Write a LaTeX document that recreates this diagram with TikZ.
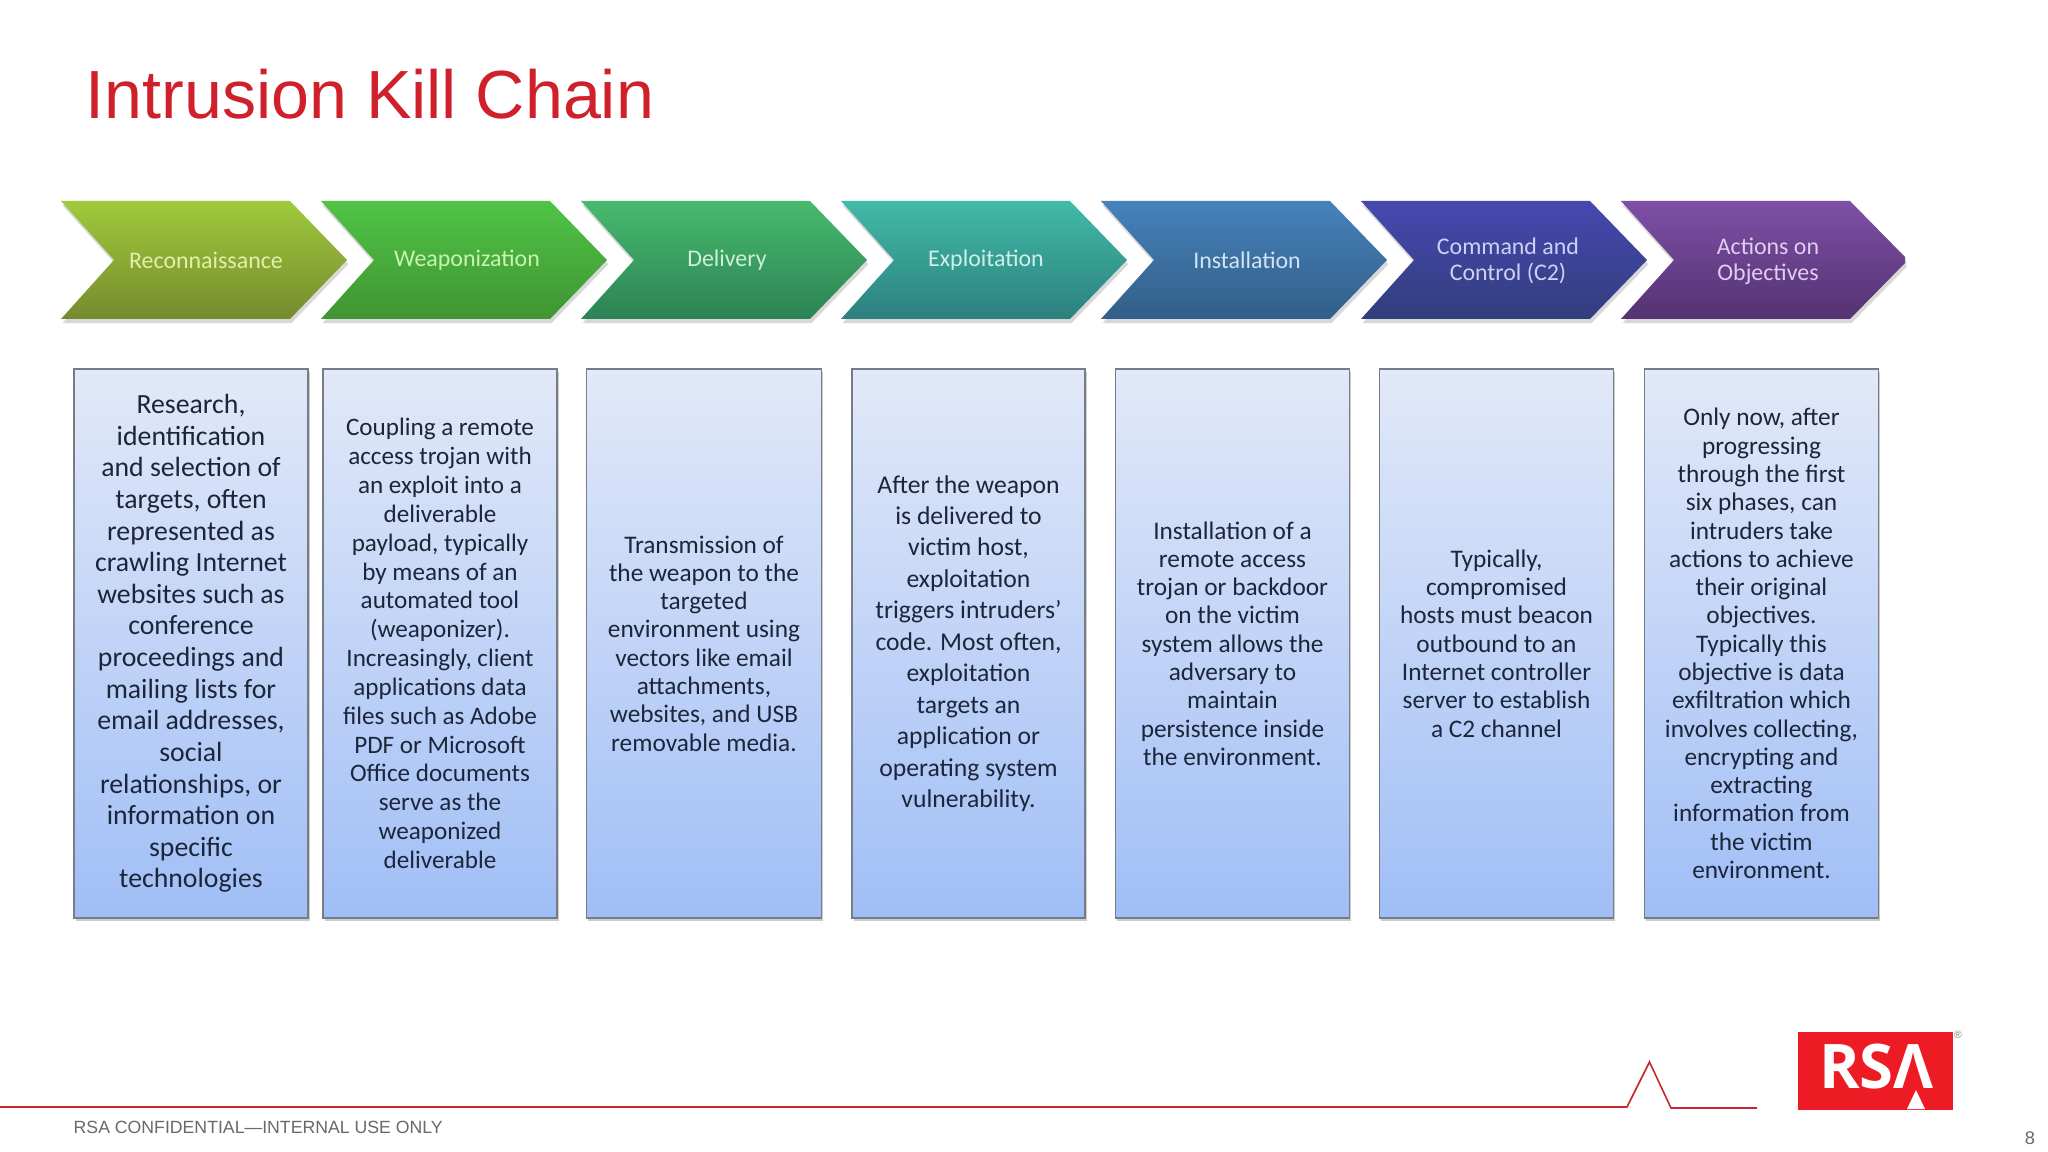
\documentclass[tikz,border=0pt]{standalone}
\usepackage{fontspec}
\usepackage{tikz}
\usetikzlibrary{shadows}
\setmainfont{Carlito}
\newfontfamily\slidefont{Liberation Sans}
\newfontfamily\logofont{Open Sans}
\definecolor{rsared}{RGB}{237,28,36}
\definecolor{titlered}{RGB}{208,32,44}
\definecolor{footgray}{RGB}{105,105,105}
\definecolor{boxtop}{RGB}{226,233,248}
\definecolor{boxbottom}{RGB}{160,190,246}
\definecolor{boxline}{RGB}{118,124,136}
\definecolor{boxtext}{RGB}{28,38,58}
\tikzset{
    chevron/.style = {drop shadow = {shadow xshift = 0.4pt, shadow yshift = -1.2pt, opacity = 0.3}},
    chevrontext/.style = {font = {\fontsize{6.8}{7.5}\selectfont}, align = center},
    phasebox/.style = {draw = boxline, line width = 0.5pt, top color = boxtop, bottom color = boxbottom,
        minimum height = 5.49cm, inner sep = 0pt, align = center, text = boxtext,
        drop shadow = {shadow xshift = 0.5pt, shadow yshift = -0.9pt, opacity = 0.4}},
    bigtext/.style = {font = {\fontsize{7.9}{9}\selectfont}},
    midtext/.style = {font = {\fontsize{7.3}{8.95}\selectfont}},
    smalltext/.style = {font = {\fontsize{7.2}{8.05}\selectfont}},
    widetext/.style = {font = {\fontsize{7.15}{8.2}\selectfont}}
}

\begin{document}
\begin{tikzpicture}[x = 1cm, y = -1cm]
    \useasboundingbox[fill = white] (0, 0) rectangle (20.48, 11.52);

    \node[font = {\slidefont\fontsize{19.4}{22}\selectfont}, text = titlered, anchor = west, inner sep = 0pt] (title) at (0.85, 0.94) {Intrusion Kill Chain};

    % arrows along the top
    \path[chevron, top color = {rgb,255:red,160;green,202;blue,60}, bottom color = {rgb,255:red,118;green,138;blue,46}] (0.61, 2.01) -- (2.90, 2.01) -- (3.47, 2.60) -- (2.90, 3.19) -- (0.61, 3.19) -- (1.14, 2.60) -- cycle;
    \path[chevron, top color = {rgb,255:red,80;green,196;blue,70}, bottom color = {rgb,255:red,64;green,148;blue,50}] (3.21, 2.01) -- (5.50, 2.01) -- (6.07, 2.60) -- (5.50, 3.19) -- (3.21, 3.19) -- (3.74, 2.60) -- cycle;
    \path[chevron, top color = {rgb,255:red,72;green,186;blue,110}, bottom color = {rgb,255:red,44;green,130;blue,84}] (5.81, 2.01) -- (8.10, 2.01) -- (8.67, 2.60) -- (8.10, 3.19) -- (5.81, 3.19) -- (6.34, 2.60) -- cycle;
    \path[chevron, top color = {rgb,255:red,66;green,186;blue,168}, bottom color = {rgb,255:red,44;green,128;blue,126}] (8.41, 2.01) -- (10.70, 2.01) -- (11.27, 2.60) -- (10.70, 3.19) -- (8.41, 3.19) -- (8.94, 2.60) -- cycle;
    \path[chevron, top color = {rgb,255:red,70;green,130;blue,186}, bottom color = {rgb,255:red,50;green,94;blue,136}] (11.01, 2.01) -- (13.30, 2.01) -- (13.87, 2.60) -- (13.30, 3.19) -- (11.01, 3.19) -- (11.54, 2.60) -- cycle;
    \path[chevron, top color = {rgb,255:red,70;green,72;blue,176}, bottom color = {rgb,255:red,50;green,62;blue,124}] (13.61, 2.01) -- (15.90, 2.01) -- (16.47, 2.60) -- (15.90, 3.19) -- (13.61, 3.19) -- (14.14, 2.60) -- cycle;
    \path[chevron, top color = {rgb,255:red,126;green,80;blue,166}, bottom color = {rgb,255:red,84;green,50;blue,114}] (16.21, 2.01) -- (18.50, 2.01) -- (19.05, 2.57) -- (19.05, 2.63) -- (18.50, 3.19) -- (16.21, 3.19) -- (16.74, 2.60) -- cycle;

    \node[chevrontext, text = {rgb,255:red,226;green,240;blue,170}] (recon) at (2.06, 2.60) {Reconnaissance};
    \node[chevrontext, text = {rgb,255:red,200;green,245;blue,175}] (weapon) at (4.67, 2.60) {Weaponization};
    \node[chevrontext, text = {rgb,255:red,205;green,240;blue,215}] (delivery) at (7.27, 2.60) {Delivery};
    \node[chevrontext, text = {rgb,255:red,205;green,240;blue,235}] (exploit) at (9.86, 2.60) {Exploitation};
    \node[chevrontext, text = {rgb,255:red,210;green,228;blue,245}] (install) at (12.47, 2.60) {Installation};
    \node[chevrontext, text = {rgb,255:red,205;green,210;blue,245}] (control) at (15.08, 2.61) {Command and\\Control (C2)};
    \node[chevrontext, text = {rgb,255:red,225;green,205;blue,240}] (actions) at (17.68, 2.61) {Actions on\\Objectives};

    % text boxes
    \node[phasebox, bigtext, minimum width = 2.34cm] (reconbox) at (1.91, 6.435) {Research,\\identification\\and selection of\\targets, often\\represented  as\\crawling Internet\\websites such as\\conference\\proceedings and\\mailing lists for\\email addresses,\\social\\relationships, or\\information on\\specific\\technologies};
    \node[phasebox, widetext, minimum width = 2.34cm] (weaponbox) at (4.40, 6.435) {Coupling a remote\\access trojan with\\an exploit into a\\deliverable\\payload, typically\\by means of an\\automated tool\\(weaponizer).\\Increasingly, client\\applications data\\files such as Adobe\\PDF or Microsoft\\Office documents\\serve as the\\weaponized\\deliverable};
    \node[phasebox, smalltext, minimum width = 2.35cm] (deliverybox) at (7.04, 6.435) {Transmission of\\the weapon to the\\targeted\\environment using\\vectors like email\\attachments,\\websites, and USB\\removable media.};
    \node[phasebox, midtext, minimum width = 2.33cm] (exploitbox) at (9.685, 6.435) {After the weapon\\is delivered to\\victim host,\\exploitation\\triggers intruders'\\code. Most often,\\exploitation\\targets an\\application or\\operating system\\vulnerability.};
    \node[phasebox, smalltext, minimum width = 2.34cm] (installbox) at (12.325, 6.435) {Installation of a\\remote access\\trojan or backdoor\\on the victim\\system allows the\\adversary to\\maintain\\persistence inside\\the environment.};
    \node[phasebox, smalltext, minimum width = 2.34cm] (controlbox) at (14.965, 6.435) {Typically,\\compromised\\hosts must beacon\\outbound to an\\Internet controller\\server to establish\\a C2 channel};
    \node[phasebox, smalltext, minimum width = 2.34cm] (actionsbox) at (17.615, 6.435) {Only now, after\\progressing\\through the first\\six phases, can\\intruders take\\actions to achieve\\their original\\objectives.\\Typically this\\objective is data\\exfiltration which\\involves collecting,\\encrypting and\\extracting\\information from\\the victim\\environment.};

    % footer
    \draw[color = {rgb,255:red,200;green,40;blue,45}, line width = 0.45pt] (0, 11.07) -- (16.27, 11.07) -- (16.495, 10.62) -- (16.71, 11.08) -- (17.57, 11.08);
    \node[font = {\slidefont\fontsize{5.03}{6}\selectfont}, text = footgray, anchor = west, inner sep = 0pt] (confidential) at (0.73, 11.27) {RSA CONFIDENTIAL—INTERNAL USE ONLY};
    \node[font = {\slidefont\fontsize{5.2}{6}\selectfont}, text = footgray, inner sep = 0pt] (pagenum) at (20.30, 11.38) {8};

    % logo
    \node[fill = rsared, minimum width = 1.55cm, minimum height = 0.78cm, inner sep = 0pt, anchor = north west] (logo) at (17.97, 10.31) {};
    \node[font = {\logofont\bfseries\fontsize{17.5}{18}\selectfont}, text = white, inner sep = 0pt] (logotext) at (18.765, 10.67) {RSΛ};
    \fill[white] (19.07, 11.09) -- (19.16, 10.90) -- (19.25, 11.09) -- cycle;
    \node[font = {\slidefont\fontsize{3}{3}\selectfont}, text = gray, inner sep = 0pt] (regmark) at (19.58, 10.35) {®};
\end{tikzpicture}
\end{document}
